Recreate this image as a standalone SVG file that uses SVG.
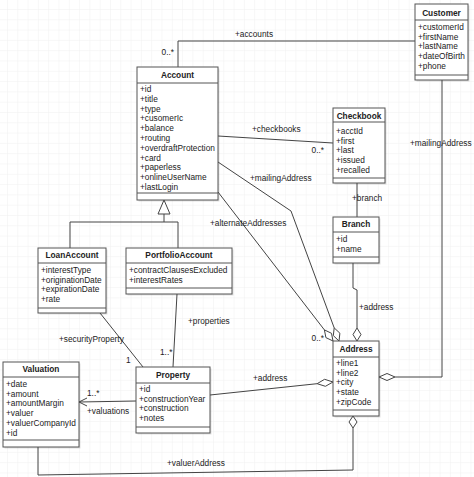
<svg xmlns="http://www.w3.org/2000/svg" width="474" height="477" viewBox="0 0 474 477">
<style>
  text { font-family: "Liberation Sans", Arial, sans-serif; font-size: 8.3px; fill: #222; }
  .t { font-weight: bold; text-anchor: middle; }
  .box { fill: #fff; stroke: #555; stroke-width: 1; }
  .sh { fill: #000; opacity: 0.12; }
  .sep { stroke: #555; stroke-width: 1; }
  .ln { fill: none; stroke: #444; stroke-width: 1; }
  .dia { fill: #fff; stroke: #444; stroke-width: 1; }
</style>
<defs>
  <pattern id="grid" width="10.3" height="10.3" patternUnits="userSpaceOnUse" x="7" y="9">
    <path d="M0 0H10.3M0 0V10.3" fill="none" stroke="#f0f0f0" stroke-width="1"/>
  </pattern>
</defs>
<rect width="474" height="477" fill="#fff"/>
<rect width="474" height="477" fill="url(#grid)"/>

<g id="connectors">
  <!-- Account - Customer -->
  <polyline class="ln" points="178,67 178,41 415,41"/>
  <text x="235" y="37">+accounts</text>
  <text x="174" y="55" text-anchor="end">0..*</text>
  <!-- Account - Checkbook -->
  <line class="ln" x1="218" y1="136" x2="333" y2="143"/>
  <text x="252" y="132">+checkbooks</text>
  <text x="324" y="153" text-anchor="end">0..*</text>
  <!-- Checkbook - Branch -->
  <line class="ln" x1="357" y1="183" x2="357" y2="217"/>
  <text x="352" y="201">+branch</text>
  <!-- Branch - Address -->
  <polyline class="ln" points="353,263 353,288 357,290 357,328"/>
  <polygon class="dia" points="357,341 361,334.5 357,328 353,334.5"/>
  <text x="359" y="310">+address</text>
  <!-- Customer - Address -->
  <polyline class="ln" points="442,80 442,377 395,377"/>
  <polygon class="dia" points="379,377 387,373.5 395,377 387,380.5"/>
  <text x="410" y="146">+mailingAddress</text>
  <!-- Account - Address mailingAddress -->
  <polyline class="ln" points="218,162 291,211 334.2,327.9"/>
  <polygon class="dia" points="339,341 339.9,333.2 334.2,327.9 333.3,335.6"/>
  <text x="250" y="181">+mailingAddress</text>
  <!-- Account - Address alternateAddresses -->
  <line class="ln" x1="218" y1="192" x2="324.4" y2="329.9"/>
  <polygon class="dia" points="333,341 331.5,333.3 324.4,329.9 325.9,337.6"/>
  <text x="210" y="226">+alternateAddresses</text>
  <text x="324" y="341" text-anchor="end">0..*</text>
  <!-- Property - Address -->
  <line class="ln" x1="210" y1="395" x2="317.1" y2="383.7"/>
  <polygon class="dia" points="333,382 325.4,386.3 317.1,383.7 324.6,379.3"/>
  <text x="253" y="381">+address</text>
  <!-- Property - Valuation -->
  <line class="ln" x1="136" y1="401" x2="79" y2="402"/>
  <polyline class="ln" points="87,398 79,402 87,406"/>
  <text x="87" y="396">1..*</text>
  <text x="87" y="414">+valuations</text>
  <!-- LoanAccount - Property -->
  <line class="ln" x1="100" y1="313" x2="143" y2="367"/>
  <text x="59" y="342">+securityProperty</text>
  <text x="126" y="363">1</text>
  <!-- PortfolioAccount - Property -->
  <line class="ln" x1="177" y1="294" x2="173" y2="367"/>
  <text x="188" y="324">+properties</text>
  <text x="160" y="355">1..*</text>
  <!-- Generalization -->
  <polyline class="ln" points="70,248 70,222 178,222 178,248"/>
  <line class="ln" x1="164" y1="222" x2="164" y2="214"/>
  <polygon class="dia" points="164,200 170,214 158,214"/>
  <!-- Valuation - Address -->
  <polyline class="ln" points="38,447 38,475 353,470 353,428"/>
  <polygon class="dia" points="353,416 357,422 353,428 349,422"/>
  <text x="167" y="466">+valuerAddress</text>
</g>

<g id="customer">
  <rect class="sh" x="416.5" y="5.5" width="53" height="76"/>
  <rect class="box" x="415" y="4" width="53" height="76"/>
  <line class="sep" x1="415" y1="20" x2="468" y2="20"/>
  <line class="sep" x1="415" y1="75" x2="468" y2="75"/>
  <text class="t" x="441.5" y="16">Customer</text>
  <text x="418" y="30">+customerId</text>
  <text x="418" y="39.7">+firstName</text>
  <text x="418" y="49.4">+lastName</text>
  <text x="418" y="59.1">+dateOfBirth</text>
  <text x="418" y="68.8">+phone</text>
</g>

<g id="account">
  <rect class="sh" x="138.5" y="68.5" width="81" height="133"/>
  <rect class="box" x="137" y="67" width="81" height="133"/>
  <line class="sep" x1="137" y1="83" x2="218" y2="83"/>
  <line class="sep" x1="137" y1="193" x2="218" y2="193"/>
  <text class="t" x="177.5" y="78">Account</text>
  <text x="140" y="92">+id</text>
  <text x="140" y="101.8">+title</text>
  <text x="140" y="111.6">+type</text>
  <text x="140" y="121.4">+cusomerIc</text>
  <text x="140" y="131.2">+balance</text>
  <text x="140" y="141">+routing</text>
  <text x="140" y="150.8">+overdraftProtection</text>
  <text x="140" y="160.6">+card</text>
  <text x="140" y="170.4">+paperless</text>
  <text x="140" y="180.2">+onlineUserName</text>
  <text x="140" y="190">+lastLogin</text>
</g>

<g id="checkbook">
  <rect class="sh" x="334.5" y="109.5" width="52" height="75"/>
  <rect class="box" x="333" y="108" width="52" height="75"/>
  <line class="sep" x1="333" y1="122" x2="385" y2="122"/>
  <line class="sep" x1="333" y1="178" x2="385" y2="178"/>
  <text class="t" x="359" y="119">Checkbook</text>
  <text x="336" y="134">+acctId</text>
  <text x="336" y="143.7">+first</text>
  <text x="336" y="153.4">+last</text>
  <text x="336" y="163.1">+issued</text>
  <text x="336" y="172.8">+recalled</text>
</g>

<g id="branch">
  <rect class="sh" x="334.5" y="218.5" width="46" height="46"/>
  <rect class="box" x="333" y="217" width="46" height="46"/>
  <line class="sep" x1="333" y1="232" x2="379" y2="232"/>
  <line class="sep" x1="333" y1="257" x2="379" y2="257"/>
  <text class="t" x="356" y="227">Branch</text>
  <text x="336" y="242">+id</text>
  <text x="336" y="251.7">+name</text>
</g>

<g id="address">
  <rect class="sh" x="334.5" y="342.5" width="46" height="75"/>
  <rect class="box" x="333" y="341" width="46" height="75"/>
  <line class="sep" x1="333" y1="357" x2="379" y2="357"/>
  <line class="sep" x1="333" y1="410" x2="379" y2="410"/>
  <text class="t" x="356" y="352">Address</text>
  <text x="336" y="366">+line1</text>
  <text x="336" y="375.7">+line2</text>
  <text x="336" y="385.4">+city</text>
  <text x="336" y="395.1">+state</text>
  <text x="336" y="404.8">+zipCode</text>
</g>

<g id="loanaccount">
  <rect class="sh" x="39.5" y="249.5" width="68" height="65"/>
  <rect class="box" x="38" y="248" width="68" height="65"/>
  <line class="sep" x1="38" y1="263" x2="106" y2="263"/>
  <line class="sep" x1="38" y1="308" x2="106" y2="308"/>
  <text class="t" x="72" y="258">LoanAccount</text>
  <text x="41" y="273">+interestType</text>
  <text x="41" y="282.7">+originationDate</text>
  <text x="41" y="292.4">+expirationDate</text>
  <text x="41" y="302.1">+rate</text>
</g>

<g id="portfolioaccount">
  <rect class="sh" x="127.5" y="249.5" width="106" height="46"/>
  <rect class="box" x="126" y="248" width="106" height="46"/>
  <line class="sep" x1="126" y1="263" x2="232" y2="263"/>
  <line class="sep" x1="126" y1="288" x2="232" y2="288"/>
  <text class="t" x="179" y="258">PortfolioAccount</text>
  <text x="129" y="273">+contractClausesExcluded</text>
  <text x="129" y="282.7">+interestRates</text>
</g>

<g id="valuation">
  <rect class="sh" x="4.5" y="363.5" width="76" height="85"/>
  <rect class="box" x="3" y="362" width="76" height="85"/>
  <line class="sep" x1="3" y1="377" x2="79" y2="377"/>
  <line class="sep" x1="3" y1="440" x2="79" y2="440"/>
  <text class="t" x="41" y="372">Valuation</text>
  <text x="6" y="387">+date</text>
  <text x="6" y="396.7">+amount</text>
  <text x="6" y="406.4">+amountMargin</text>
  <text x="6" y="416.1">+valuer</text>
  <text x="6" y="425.8">+valuerCompanyId</text>
  <text x="6" y="435.5">+id</text>
</g>

<g id="property">
  <rect class="sh" x="137.5" y="368.5" width="74" height="66"/>
  <rect class="box" x="136" y="367" width="74" height="66"/>
  <line class="sep" x1="136" y1="383" x2="210" y2="383"/>
  <line class="sep" x1="136" y1="427" x2="210" y2="427"/>
  <text class="t" x="173" y="378">Property</text>
  <text x="139" y="392">+id</text>
  <text x="139" y="401.7">+constructionYear</text>
  <text x="139" y="411.4">+construction</text>
  <text x="139" y="421.1">+notes</text>
</g>
</svg>
